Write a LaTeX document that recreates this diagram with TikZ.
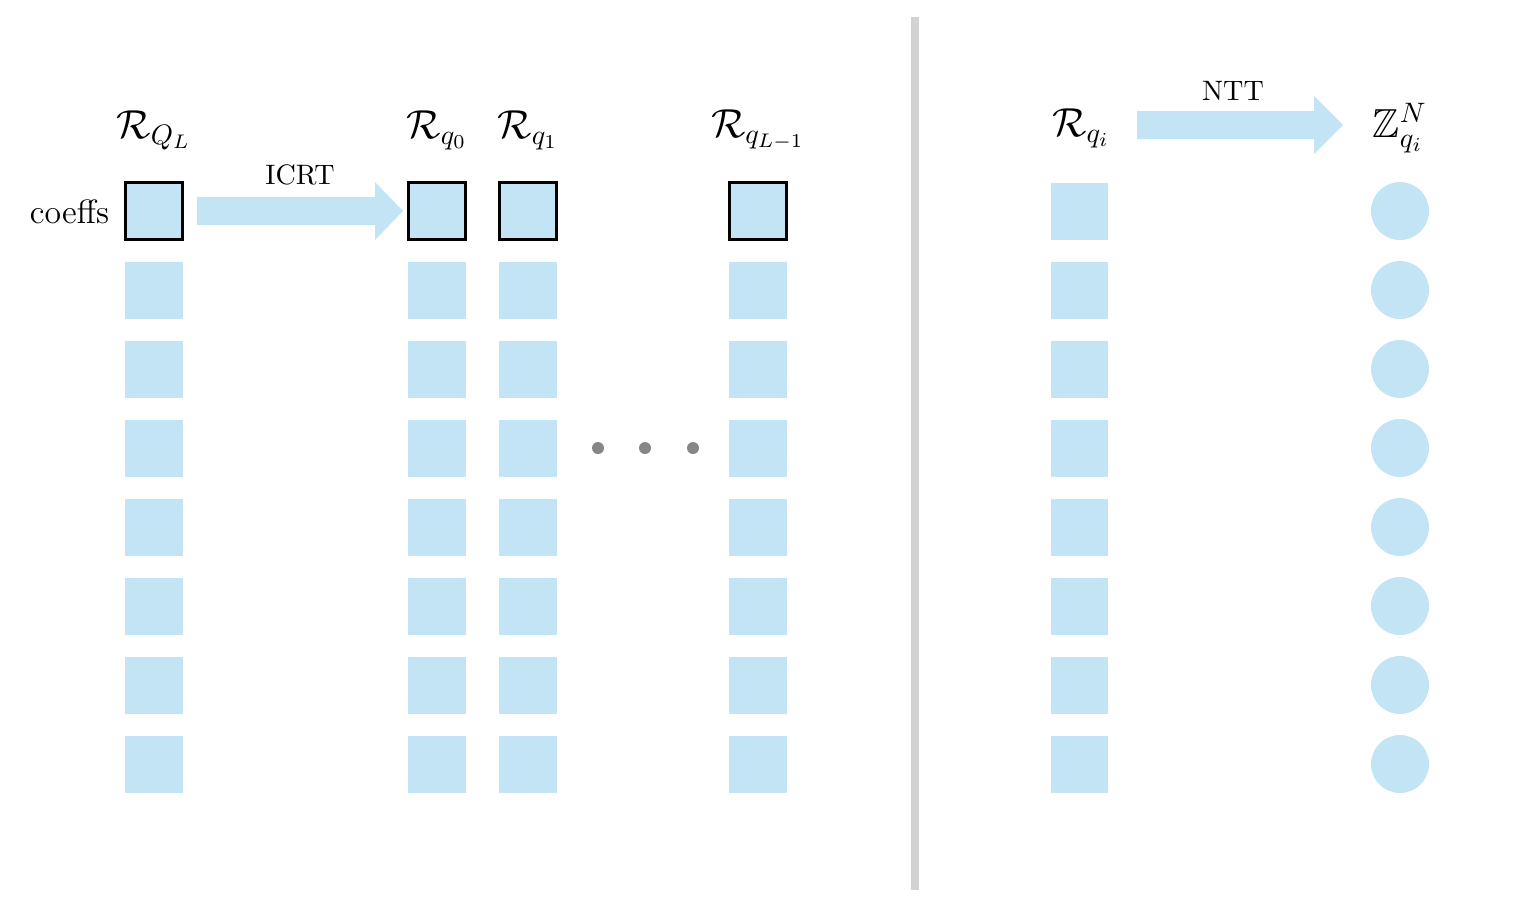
\documentclass[tikz,border=0pt]{standalone}
\usepackage{amsmath,amssymb}
\begin{document}
\begin{tikzpicture}[x=0.0125cm,y=-0.0125cm,
  sq/.style={fill=lb,minimum size=0.7125cm,inner sep=0pt,draw=none},
  sqb/.style={sq,draw=black,line width=0.8pt},
  cir/.style={circle,fill=lb,minimum size=0.725cm,inner sep=0pt},
  lbl/.style={font=\Large},
  dotg/.style={circle,fill=gray!95,minimum size=0.15cm,inner sep=0pt}]
\definecolor{lb}{HTML}{C3E4F4}
\useasboundingbox (0,0) rectangle (1514,902);
\fill[gray!35] (911,17) rectangle (919,890);
\foreach \x/\n in {154/a,437/b,528/c,758/d}{
  \node[sqb] (\n1) at (\x,211) {};
  \foreach \r in {2,...,8}{\node[sq] (\n\r) at (\x,{211+79*(\r-1)}) {};}
}
\foreach \r in {1,...,8}{
  \node[sq] (e\r) at (1079,{211+79*(\r-1)}) {};
  \node[cir] (f\r) at (1400,{211+79*(\r-1)}) {};
}
\node[lbl] (la) at (154,130) {$\mathcal{R}_{Q_L}$};
\node[lbl] (lb) at (437,130) {$\mathcal{R}_{q_0}$};
\node[lbl] (lc) at (528,130) {$\mathcal{R}_{q_1}$};
\node[lbl] (ld) at (758,130) {$\mathcal{R}_{q_{L-1}}$};
\node[lbl] (le) at (1081,128) {$\mathcal{R}_{q_i}$};
\node[lbl] (lf) at (1400,128) {$\mathbb{Z}_{q_i}^N$};
\node[font=\large,anchor=east] (co) at (119,212) {coeffs};
\node (icrt) at (300,175) {ICRT};
\node (ntt) at (1233,91) {NTT};
\node[dotg] (d1) at (598,448) {};
\node[dotg] (d2) at (645,448) {};
\node[dotg] (d3) at (693,448) {};
\fill[lb] (197,197) -- (375,197) -- (375,182) -- (403,211) -- (375,240) -- (375,225) -- (197,225) -- cycle;
\fill[lb] (1137,111) -- (1314,111) -- (1314,96) -- (1343,125) -- (1314,154) -- (1314,139) -- (1137,139) -- cycle;
\end{tikzpicture}
\end{document}
